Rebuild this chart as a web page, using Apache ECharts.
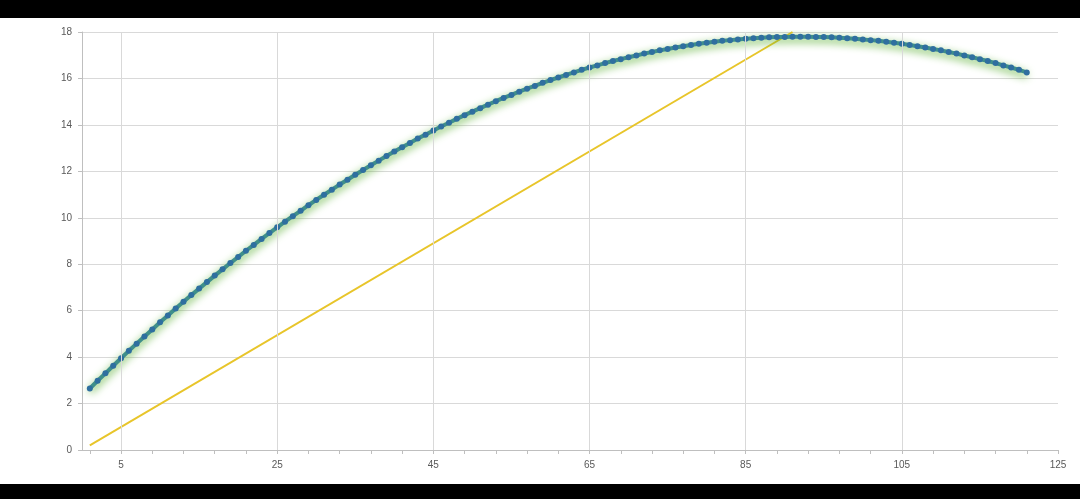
<!DOCTYPE html>
<html><head><meta charset="utf-8">
<script src="https://cdn.jsdelivr.net/npm/echarts@6/dist/echarts.min.js"></script>
<style>html,body{margin:0;padding:0;background:#000;}#c{position:absolute;left:0;top:18px;width:1080px;height:466px;background:#fff;}</style>
</head><body><div id="c"></div>
<script>
const xStart = 1;
const curveValues = [2.65,2.98,3.30,3.63,3.95,4.27,4.58,4.89,5.19,5.50,5.79,6.09,6.38,6.67,6.95,7.23,7.51,7.78,8.05,8.31,8.58,8.83,9.09,9.34,9.59,9.83,10.07,10.30,10.54,10.77,10.99,11.21,11.43,11.64,11.85,12.06,12.26,12.46,12.66,12.85,13.04,13.22,13.41,13.58,13.76,13.93,14.09,14.26,14.42,14.57,14.72,14.87,15.02,15.16,15.29,15.43,15.56,15.68,15.81,15.93,16.04,16.15,16.26,16.37,16.47,16.56,16.66,16.75,16.83,16.91,16.99,17.07,17.14,17.21,17.27,17.33,17.39,17.44,17.49,17.54,17.58,17.62,17.65,17.68,17.71,17.73,17.75,17.77,17.78,17.79,17.80,17.80,
17.80,17.79,17.78,17.77,17.75,17.73,17.71,17.68,17.65,17.62,17.58,17.54,17.49,17.44,17.39,17.33,17.27,17.21,17.14,17.07,16.99,16.91,16.83,16.75,16.66,16.56,16.47,16.37,16.26];
const lineX = [1, 91];
const lineY = [0.2, 18];
const xLabels = [5,25,45,65,85,105,125];
const xTicks = [];
for (let v = 1; v <= 125; v += 4) xTicks.push(v);

const curve = curveValues.map((v,i)=>[xStart+i, v]);
const chart = echarts.init(document.getElementById('c'));
chart.setOption({
  animation:false,
  grid:{left:82,right:22,top:14,bottom:34},
  xAxis:{type:'value',min:0,max:125,
    axisLine:{lineStyle:{color:'#bfbfbf'}},
    axisTick:{show:true,customValues:xTicks,length:4,lineStyle:{color:'#bfbfbf'}},
    axisLabel:{customValues:xLabels,color:'#595959',fontSize:10,fontFamily:'Liberation Sans',margin:10},
    splitLine:{show:false}},
  yAxis:{type:'value',min:0,max:18,interval:2,
    axisLine:{show:true,lineStyle:{color:'#bfbfbf'}},
    axisTick:{show:true,length:4,lineStyle:{color:'#bfbfbf'}},
    axisLabel:{color:'#595959',fontSize:10,fontFamily:'Liberation Sans',margin:10},
    splitLine:{lineStyle:{color:'#d9d9d9'}}},
  series:[
    {type:'line',data:lineX.map((x,i)=>[x,lineY[i]]),symbol:'none',z:3,
     lineStyle:{color:'#e8c52a',width:2},
     markLine:{silent:true,symbol:'none',label:{show:false},
       lineStyle:{color:'#d9d9d9',type:'solid',width:1},
       data:xLabels.slice(0,6).map(v=>({xAxis:v}))}},
    {type:'line',data:curve,symbol:'circle',symbolSize:6,z:4,
     itemStyle:{color:'#2f6f9f'},
     lineStyle:{color:'#3f8f8a',width:4,shadowColor:'rgba(90,175,50,1)',shadowBlur:8,shadowOffsetY:3}}
  ]
});
</script></body></html>
